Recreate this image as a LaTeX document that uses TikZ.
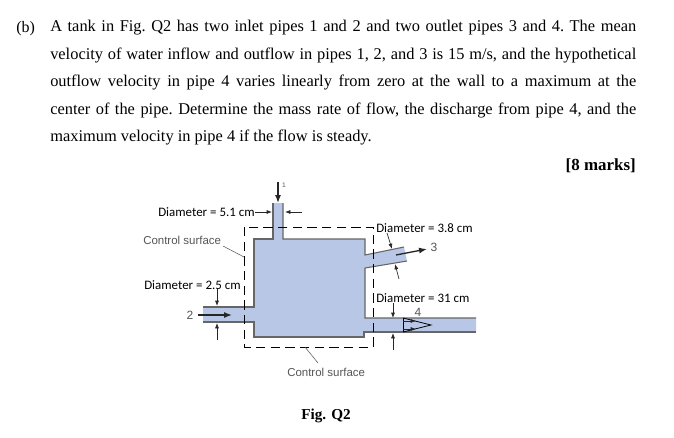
\documentclass[tikz,border=0pt]{standalone}
\usepackage{fontspec}
\setmainfont{Liberation Serif}
\newfontfamily\dimfont{Carlito}
\newfontfamily\figfont{Liberation Sans}
\usetikzlibrary{arrows.meta}
\definecolor{tankblue}{HTML}{B8C7E6}
\definecolor{wallgray}{HTML}{666666}
\definecolor{labelgray}{HTML}{555555}
\tikzset{
flowarrow/.style={-{Latex[length=6pt,width=4.5pt]},line width=1pt,draw=black!85},
dimarrow/.style={-{Latex[length=4pt,width=3pt]},line width=0.5pt,draw=black!85},
leader/.style={line width=0.4pt,draw=labelgray},
dimlabel/.style={font=\dimfont\fontsize{9.7}{11}\selectfont,inner sep=0pt},
figlabel/.style={font=\figfont\fontsize{8.6}{10}\selectfont,text=labelgray,inner sep=0pt},
wall/.style={line width=0.8pt,draw=wallgray}}
\begin{document}
\begin{tikzpicture}[x=0.75pt,y=-0.75pt]
    \useasboundingbox (0,0) rectangle (674,437);

    \node[anchor=base west,inner sep=0pt,font=\fontsize{12}{12}\selectfont] (part) at (16,32) {(b)};
    \node[anchor=north west,inner sep=0pt,text width=439.5pt,align=justify,font=\frenchspacing\fontsize{12.3}{20.6}\selectfont] (question) at (50,20) {A tank in Fig. Q2 has two inlet pipes 1 and 2 and two outlet pipes 3 and 4. The mean\linebreak
velocity of water inflow and outflow in pipes 1, 2, and 3 is 15 m/s, and the hypothetical\linebreak
outflow velocity in pipe 4 varies linearly from zero at the wall to a maximum at the\linebreak
center of the pipe. Determine the mass rate of flow, the discharge from pipe 4, and the\linebreak
maximum velocity in pipe 4 if the flow is steady.};
    \node[anchor=base east,inner sep=0pt,font=\bfseries\fontsize{12.7}{13}\selectfont] (marks) at (636,170) {[8 marks]};
    \node[inner sep=0pt,font=\bfseries\fontsize{11.4}{12}\selectfont] (figname) at (326,416) {Fig. Q2};

    % tank and pipes
    \fill[tankblue] (273,203) -- (273,239) -- (254,239) -- (254,307) -- (203,307) -- (203,322) -- (254,322) -- (254,337) -- (364,337) -- (364,332) -- (476,332) -- (476,318) -- (365,318) -- (365,268) -- (407,261) -- (404,247) -- (365,255) -- (365,239) -- (283,239) -- (283,203) -- cycle;
    \draw[wall] (273,203) -- (273,239) -- (254,239) -- (254,307) -- (203,307);
    \draw[wall] (203,322) -- (254,322) -- (254,337) -- (364,337) -- (364,332) -- (476,332);
    \draw[wall] (476,318) -- (365,318) -- (365,268) -- (407,261);
    \draw[wall] (404,247) -- (365,255) -- (365,239) -- (283,239) -- (283,203);

    % control surface
    \draw[line width=0.75pt,dash pattern=on 7pt off 4pt] (244,227) rectangle (373,347);

    % labels
    \node[dimlabel,anchor=west] (d1) at (158,212) {Diameter = 5.1 cm};
    \node[dimlabel,anchor=west] (d2) at (144,285) {Diameter = 2.5 cm};
    \node[dimlabel,anchor=west] (d3) at (376,228) {Diameter = 3.8 cm};
    \node[dimlabel,anchor=west] (d4) at (376,298) {Diameter = 31 cm};
    \node[figlabel,anchor=west] (cs1) at (143,240) {Control surface};
    \node[figlabel,anchor=west] (cs2) at (287,372) {Control surface};
    \node[figlabel,font=\figfont\fontsize{5}{6}\selectfont] (n1) at (284,185) {1};
    \node[figlabel,font=\figfont\fontsize{9}{10}\selectfont] (n2) at (190,315) {2};
    \node[figlabel,font=\figfont\fontsize{9}{10}\selectfont] (n3) at (434,247) {3};
    \node[figlabel,font=\figfont\fontsize{9}{10}\selectfont] (n4) at (418,312) {4};

    % end points
    \coordinate (f1a) at (278,182);
    \coordinate (f1b) at (278,203);
    \coordinate (f2a) at (198,315);
    \coordinate (f2b) at (232,315);
    \coordinate (f3a) at (396,255);
    \coordinate (f3b) at (427,249);
    \coordinate (a1) at (272,212);
    \coordinate (b1a) at (302,212);
    \coordinate (b1b) at (285,212);
    \coordinate (a2a) at (217,289);
    \coordinate (a2b) at (217,306);
    \coordinate (b2a) at (217,340);
    \coordinate (b2b) at (217,323);
    \coordinate (a3a) at (387,233);
    \coordinate (a3b) at (392,249);
    \coordinate (b3a) at (399,279);
    \coordinate (b3b) at (395,264);
    \coordinate (a4a) at (393,303);
    \coordinate (a4b) at (393,318);
    \coordinate (b4a) at (393,350);
    \coordinate (b4b) at (393,333);
    \coordinate (l1a) at (223,246);
    \coordinate (l1b) at (244,257);
    \coordinate (l2a) at (305,347);
    \coordinate (l2b) at (318,363);
    \coordinate (p4t) at (403,318);
    \coordinate (p4b) at (403,332);
    \coordinate (p4tip) at (431,325);
    \coordinate (p4ua) at (403,321);
    \coordinate (p4ub) at (416,321);
    \coordinate (p4la) at (403,329);
    \coordinate (p4lb) at (416,329);

    \draw[flowarrow] (f1a) -- (f1b);
    \draw[flowarrow] (f2a) -- (f2b);
    \draw[flowarrow] (f3a) -- (f3b);
    \draw[dimarrow] (d1) -- (a1);
    \draw[dimarrow] (b1a) -- (b1b);
    \draw[dimarrow] (a2a) -- (a2b);
    \draw[dimarrow] (b2a) -- (b2b);
    \draw[dimarrow] (a3a) -- (a3b);
    \draw[dimarrow] (b3a) -- (b3b);
    \draw[dimarrow] (a4a) -- (a4b);
    \draw[dimarrow] (b4a) -- (b4b);
    \draw[leader] (l1a) -- (l1b);
    \draw[leader] (l2a) -- (l2b);

    % velocity profile in pipe 4
    \draw[line width=0.6pt] (p4t) -- (p4b);
    \draw[line width=0.6pt] (p4t) -- (p4tip) -- (p4b);
    \draw[dimarrow] (p4ua) -- (p4ub);
    \draw[dimarrow] (p4la) -- (p4lb);
\end{tikzpicture}
\end{document}
